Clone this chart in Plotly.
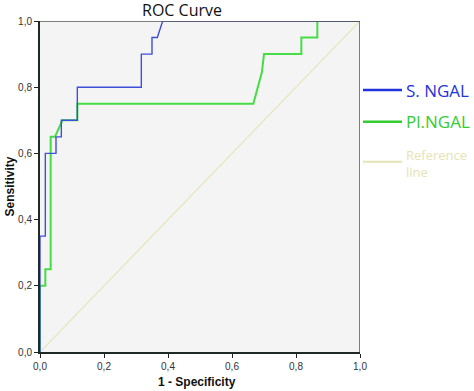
import plotly.graph_objects as go

# Data (1 - specificity, sensitivity)
s_ngal_fpr = [0, 0, 1/60, 1/60, 3/60, 3/60, 4/60, 4/60, 7/60, 7/60, 19/60, 19/60, 21/60, 21/60, 22/60, 23/60, 1.0]
s_ngal_tpr = [0, 0.35, 0.35, 0.60, 0.60, 0.65, 0.65, 0.70, 0.70, 0.80, 0.80, 0.90, 0.90, 0.95, 0.95, 1.0, 1.0]

pl_ngal_fpr = [0, 0, 1/60, 1/60, 2/60, 2/60, 2.8/60, 4.2/60, 7/60, 7/60, 40/60, 41.6/60, 42/60, 49/60, 49/60, 52/60, 52/60, 1.0]
pl_ngal_tpr = [0, 0.20, 0.20, 0.25, 0.25, 0.65, 0.65, 0.70, 0.70, 0.75, 0.75, 0.845, 0.90, 0.90, 0.95, 0.95, 1.0, 1.0]

ref_x = [0, 1]
ref_y = [0, 1]

tick_vals = [0.0, 0.2, 0.4, 0.6, 0.8, 1.0]

BLUE = "#3f4fd8"
GREEN = "#44dd44"
REF = "#e6e4b4"

fig = go.Figure()
fig.add_trace(go.Scatter(x=ref_x, y=ref_y, mode="lines", line=dict(color=REF, width=1.2),
                         name="Reference line", showlegend=False, hoverinfo="skip"))
fig.add_trace(go.Scatter(x=pl_ngal_fpr, y=pl_ngal_tpr, mode="lines", line=dict(color=GREEN, width=2),
                         name="Pl.NGAL", showlegend=False))
fig.add_trace(go.Scatter(x=s_ngal_fpr, y=s_ngal_tpr, mode="lines", line=dict(color=BLUE, width=1.4),
                         name="S. NGAL", showlegend=False))

axis_common = dict(
    range=[0, 1], tickvals=tick_vals, tickformat=".1f", ticks="outside", ticklen=4,
    tickcolor="#222", tickwidth=1.2, showgrid=False, zeroline=False,
    showline=True, linecolor="#1f2a24", linewidth=2,
    tickfont=dict(family="Liberation Sans, Arial", size=10, color="#333"),
)

fig.update_layout(
    width=474, height=391,
    margin=dict(l=40, r=114, t=21, b=39),
    paper_bgcolor="white", plot_bgcolor="#f4f4f4",
    separators=",.",
    showlegend=False,
    xaxis=dict(**axis_common),
    yaxis=dict(**axis_common),
)

# top/right frame
fig.add_shape(type="line", xref="x", yref="y", x0=0, y0=1, x1=1, y1=1, line=dict(color="#555", width=1.5))
fig.add_shape(type="line", xref="x", yref="y", x0=1, y0=0, x1=1, y1=1, line=dict(color="#555", width=1.5))

# title
fig.add_annotation(text="ROC Curve", xref="paper", yref="paper", x=(182 - 40) / 320, y=1, yshift=11,
                   showarrow=False, xanchor="center", yanchor="middle",
                   font=dict(family="Open Sans, Liberation Sans", size=16, color="#111"))
# axis titles
fig.add_annotation(text="<b>1 - Specificity</b>", xref="paper", yref="paper", x=(197 - 40) / 320, y=0, yshift=-30,
                   showarrow=False, xanchor="center", yanchor="middle",
                   font=dict(family="Liberation Sans, Arial", size=12, color="#111"))
fig.add_annotation(text="<b>Sensitivity</b>", xref="paper", yref="paper", x=0, xshift=-31, y=0.5,
                   showarrow=False, textangle=-90, xanchor="center", yanchor="middle",
                   font=dict(family="Liberation Sans, Arial", size=12, color="#111"))

# legend (drawn manually)
legend_items = [("S. NGAL", "#2233dd", 90, 17), ("Pl.NGAL", "#33cc33", 121.7, 17),
                ("Reference<br>line", "#e5e3b4", 161.7, 13)]
plot_top, plot_h = 21, 331
for label, col, ypx, fs in legend_items:
    yp = 1 - (ypx - plot_top) / plot_h
    fig.add_shape(type="line", xref="paper", yref="paper",
                  x0=(363 - 40) / 320, x1=(402 - 40) / 320, y0=yp, y1=yp,
                  line=dict(color=col, width=2.5 if "<br>" not in label else 2))
    multi = "<br>" in label
    fig.add_annotation(text=label, xref="paper", yref="paper", x=(404 - 40) / 320, y=yp,
                       showarrow=False, xanchor="left", yanchor="top" if multi else "middle",
                       yshift=18 if multi else 0, align="left",
                       font=dict(family="Open Sans, Liberation Sans", size=fs, color=col))

fig.write_html("out.html", config={"displayModeBar": False},
               post_script="document.body.style.margin='0';document.body.style.overflow='hidden';")
